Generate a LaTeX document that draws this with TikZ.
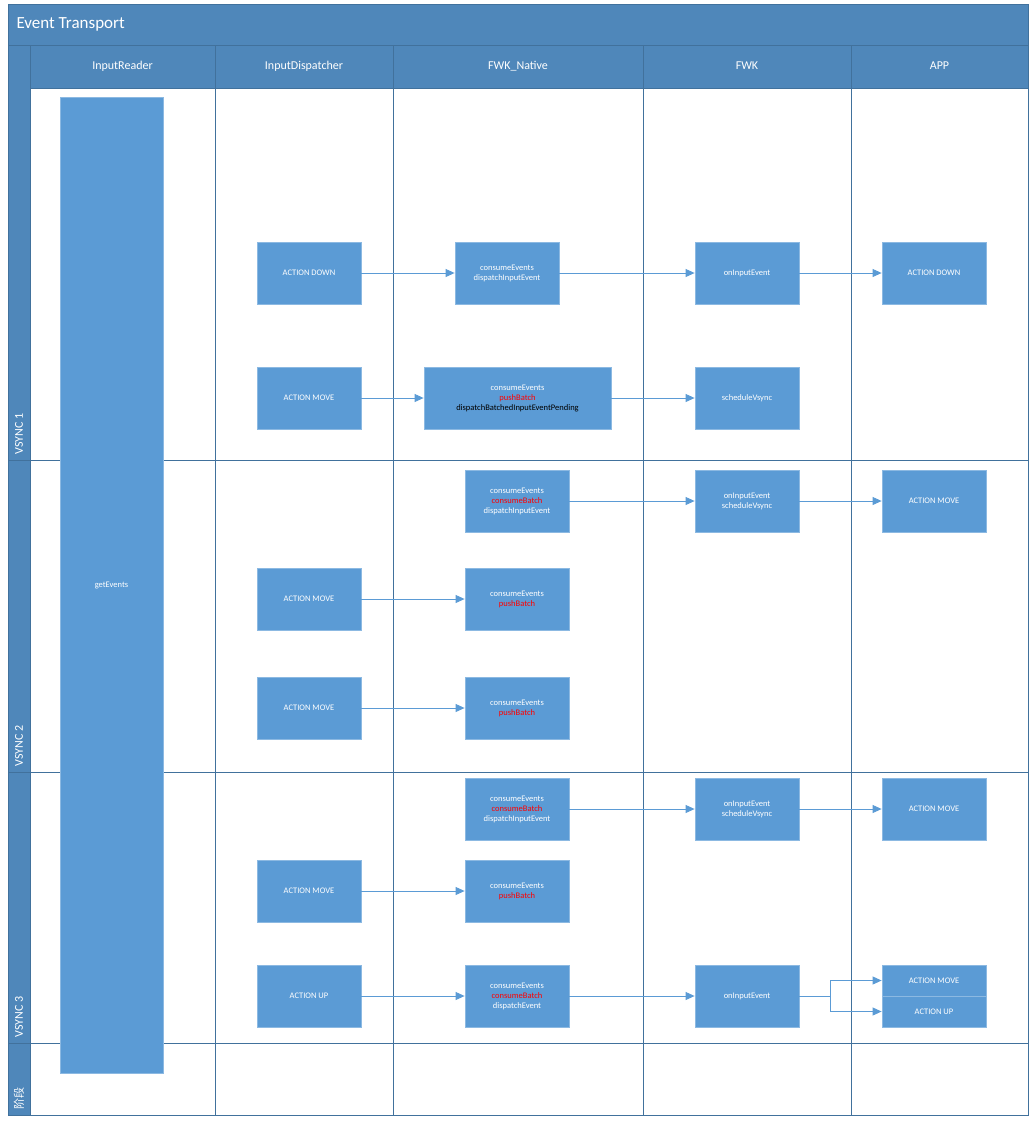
\documentclass[tikz,border=0pt]{standalone}
\usepackage{fontspec}
\setmainfont{Carlito}
\newfontfamily\cjk{Noto Sans CJK SC}
\usetikzlibrary{arrows.meta}
\definecolor{boxc}{HTML}{5B9BD5}
\definecolor{hdr}{HTML}{4F87BA}
\definecolor{linec}{HTML}{41719C}
\definecolor{redt}{HTML}{FF0000}
\tikzset{
 bx/.style={fill=boxc,draw=boxc!70!white,line width=0.8pt,text=white,font=\fontsize{8.5}{10}\selectfont,align=center,inner sep=0pt},
 ar/.style={draw=boxc,line width=0.9pt,-{Triangle[length=9pt,width=8pt]}},
 lane/.style={draw=linec,line width=0.9pt},
 hd/.style={text=white,font=\fontsize{12}{14}\selectfont},
}
\newcommand{\rb}[1]{\textcolor{redt}{#1}}
\newcommand{\mkbox}[6]{\node[bx,minimum width=#4 pt,minimum height=#5 pt] (#1) at (#2,#3) {#6};}
\begin{document}
\begin{tikzpicture}[x=1pt,y=-1pt]
\useasboundingbox (0,0) rectangle (1036,1125);
% frame
\fill[hdr] (8,4) rectangle (1028,88);
\fill[hdr] (8,4) rectangle (30,1115);
\draw[lane] (8,4) rectangle (1028,1115);
\draw[lane] (8,45) -- (1028,45);
\draw[lane] (30,88) -- (1028,88);
\foreach \x in {30,215,393,643,851} \draw[lane] (\x,45) -- (\x,1115);
\foreach \y in {460,772,1043} \draw[lane] (8,\y) -- (1028,\y);
\node[text=white,anchor=west,font=\fontsize{17}{20}\selectfont] (title) at (13,24) {Event Transport};
\node[hd] (h1) at (122.5,66) {InputReader};
\node[hd] (h2) at (304,66) {InputDispatcher};
\node[hd] (h3) at (518,66) {FWK\_Native};
\node[hd] (h4) at (747,66) {FWK};
\node[hd] (h5) at (939.5,66) {APP};
\node[hd,rotate=90,anchor=west] (v1) at (19,458) {VSYNC 1};
\node[hd,rotate=90,anchor=west] (v2) at (19,770) {VSYNC 2};
\node[hd,rotate=90,anchor=west] (v3) at (19,1041) {VSYNC 3};
\node[hd,rotate=90,anchor=west,font=\cjk\fontsize{11}{13}\selectfont] (v4) at (19,1113) {阶段};
% getEvents
\mkbox{ge}{111.5}{585}{103}{976}{getEvents}
% VSYNC1
\mkbox{a1}{309}{273}{104}{62}{ACTION DOWN}
\mkbox{b1}{507}{273}{104}{62}{consumeEvents\\dispatchInputEvent}
\mkbox{c1}{747}{273}{104}{62}{onInputEvent}
\mkbox{d1}{934}{273}{104}{62}{ACTION DOWN}
\mkbox{a2}{309}{398}{104}{62}{ACTION MOVE}
\mkbox{b2}{517.5}{398}{187}{62}{consumeEvents\\\rb{pushBatch}\\\textcolor{black}{dispatchBatchedInputEventPending}}
\mkbox{c2}{747}{398}{104}{62}{scheduleVsync}
% VSYNC2
\mkbox{b3}{517}{501}{104}{62}{consumeEvents\\\rb{consumeBatch}\\dispatchInputEvent}
\mkbox{c3}{747}{501}{104}{62}{onInputEvent\\scheduleVsync}
\mkbox{d3}{934}{501}{104}{62}{ACTION MOVE}
\mkbox{a4}{309}{599}{104}{62}{ACTION MOVE}
\mkbox{b4}{517}{599}{104}{62}{consumeEvents\\\rb{pushBatch}}
\mkbox{a5}{309}{708}{104}{62}{ACTION MOVE}
\mkbox{b5}{517}{708}{104}{62}{consumeEvents\\\rb{pushBatch}}
% VSYNC3
\mkbox{b6}{517}{809}{104}{62}{consumeEvents\\\rb{consumeBatch}\\dispatchInputEvent}
\mkbox{c6}{747}{809}{104}{62}{onInputEvent\\scheduleVsync}
\mkbox{d6}{934}{809}{104}{62}{ACTION MOVE}
\mkbox{a7}{309}{891}{104}{62}{ACTION MOVE}
\mkbox{b7}{517}{891}{104}{62}{consumeEvents\\\rb{pushBatch}}
\mkbox{a8}{309}{996}{104}{62}{ACTION UP}
\mkbox{b8}{517}{996}{104}{62}{consumeEvents\\\rb{consumeBatch}\\dispatchEvent}
\mkbox{c8}{747}{996}{104}{62}{onInputEvent}
\mkbox{d8}{934}{980.5}{104}{31}{ACTION MOVE}
\mkbox{e8}{934}{1011.5}{104}{31}{ACTION UP}
% arrows
\draw[ar] (a1) -- (b1); \draw[ar] (b1) -- (c1); \draw[ar] (c1) -- (d1);
\draw[ar] (a2) -- (b2); \draw[ar] (b2) -- (c2);
\draw[ar] (b3) -- (c3); \draw[ar] (c3) -- (d3);
\draw[ar] (a4) -- (b4); \draw[ar] (a5) -- (b5);
\draw[ar] (b6) -- (c6); \draw[ar] (c6) -- (d6);
\draw[ar] (a7) -- (b7);
\draw[ar] (a8) -- (b8); \draw[ar] (b8) -- (c8);
\coordinate (fk) at (830,996);
\draw[draw=boxc,line width=0.9pt] (c8.east) -- (fk);
\draw[ar] (fk) |- (d8.west);
\draw[ar] (fk) |- (e8.west);
\end{tikzpicture}
\end{document}
